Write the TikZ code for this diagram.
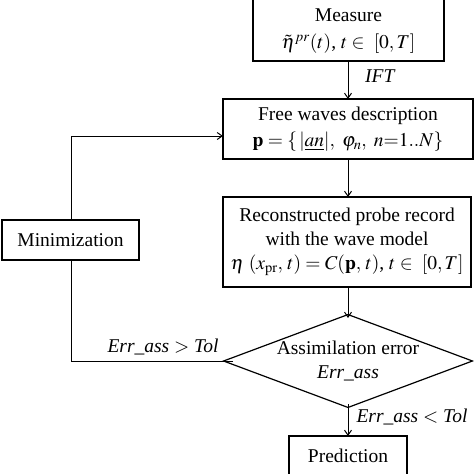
\documentclass[tikz,border=0pt]{standalone}
\usepackage{mathptmx}
\usepackage[no-math]{fontspec}
\setmainfont{Liberation Serif}
\usetikzlibrary{arrows.meta,shapes.geometric}
\begin{document}
\begin{tikzpicture}[x=1pt,y=-1pt,
  font=\fontsize{19.5}{24}\selectfont,
  box/.style={draw,line width=1.2pt,rectangle,inner sep=0pt,align=center},
  dec/.style={draw,line width=1.2pt,diamond,inner sep=0pt,align=center},
  conn/.style={line width=1pt},
  arr/.style={conn,-{Straight Barb[length=5pt,width=7pt]}},
  lab/.style={inner sep=0pt}]
\useasboundingbox (0,0) rectangle (474,474);
\clip (0,0) rectangle (474,474);
\node[box,minimum width=191pt,minimum height=70pt] (meas) at (348.5,26) {};
\node[lab,align=center] (meastxt) at (348.5,31.5)
  {Measure\\[3pt]$\tilde{\eta}^{pr}(t)$, $t\in\ [0,T]$};
\node[box,minimum width=250pt,minimum height=60pt] (free) at (348,129)
  {Free waves description\\[2pt]$\mathbf{p}=\{\,|\underline{an}|,\ \varphi_n,\ n{=}1..N\}$};
\node[box,minimum width=248pt,minimum height=90pt] (rec) at (347,242)
  {Reconstructed probe record\\with the wave model\\$\eta\ (x_{\mathrm{pr}},\,t)=C(\mathbf{p},\,t)$, $t\in\ [0,T]$};
\node[box,minimum width=137pt,minimum height=40pt] (mini) at (70.5,240) {Minimization};
\node[dec,minimum width=230pt,minimum height=86pt,aspect=2.67] (err) at (348,361)
  {Assimilation error\\\textit{Err\_ass}};
\node[box,minimum width=118pt,minimum height=40pt] (pred) at (348,456) {Prediction};
\coordinate (m1) at (348,61);
\coordinate (f1) at (348,99);
\coordinate (f2) at (348,159);
\coordinate (r1) at (348,197);
\coordinate (r2) at (348,287);
\coordinate (d1) at (348,318);
\coordinate (d2) at (348,404);
\coordinate (p1) at (348,436);
\coordinate (dl) at (233,361);
\coordinate (cornerB) at (71,361);
\coordinate (cornerT) at (71,136);
\coordinate (fl) at (223,136);
\draw[arr] (m1) -- (f1);
\draw[arr] (f2) -- (r1);
\draw[arr] (r2) -- (d1);
\draw[arr] (d2) -- (p1);
\draw[conn] (dl) -- (cornerB) -- (mini.south -| cornerB);
\draw[arr] (mini.north -| cornerT) -- (cornerT) -- (fl);
\node[lab,anchor=west] (ift) at (365,76) {\textit{IFT}};
\node[lab] (gt) at (163,347) {\textit{Err\_ass} $>$ \textit{Tol}};
\node[lab] (lt) at (412,417) {\textit{Err\_ass} $<$ \textit{Tol}};
\end{tikzpicture}
\end{document}
